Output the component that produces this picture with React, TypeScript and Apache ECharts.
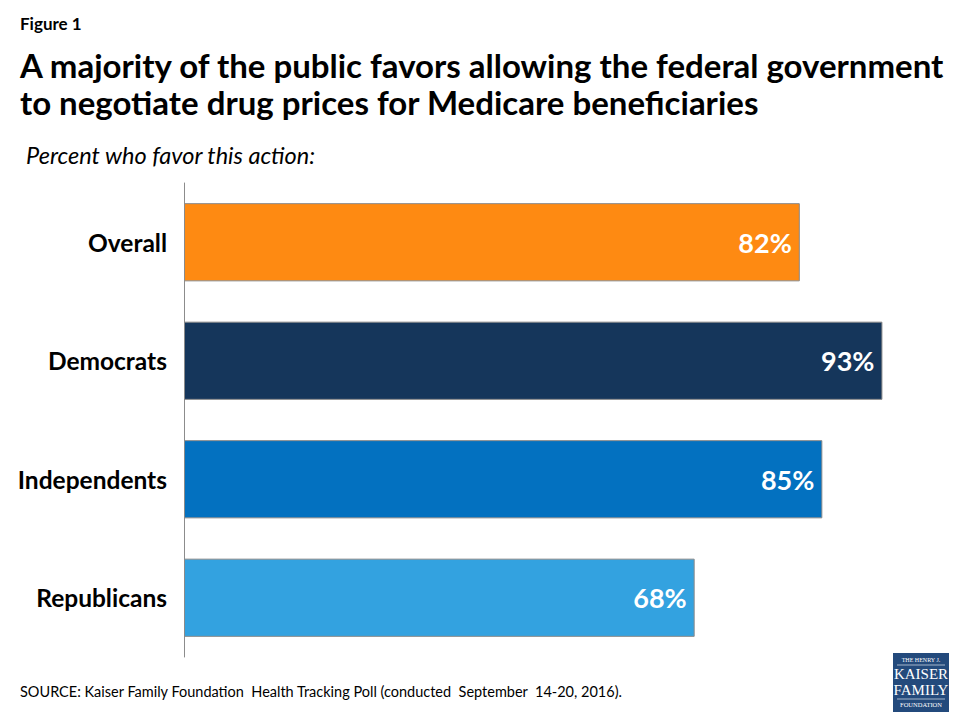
import React, { useEffect, useRef } from "react";
import * as echarts from "echarts";

const categories = ["Overall", "Democrats", "Independents", "Republicans"];
const values = [82, 93, 85, 68];
const barColors = ["#FE8A12", "#15365B", "#0371C0", "#33A2E0"];

const FONT = "Lato, 'Open Sans', sans-serif";

export default function App() {
  const ref = useRef<HTMLDivElement>(null);

  useEffect(() => {
    if (!ref.current) return;
    const chart = echarts.init(ref.current, null, { renderer: "svg" });
    chart.setOption({
      animation: false,
      backgroundColor: "#ffffff",
      grid: { left: 184, top: 183, width: 751, height: 474, containLabel: false },
      xAxis: {
        type: "value",
        min: 0,
        max: 100,
        show: false,
      },
      yAxis: {
        type: "category",
        data: categories,
        inverse: true,
        axisLine: { show: true, lineStyle: { color: "#8c8c8c", width: 1 } },
        axisTick: { show: false },
        axisLabel: {
          color: "#000",
          fontFamily: FONT,
          fontWeight: "bold",
          fontSize: 24.5,
          margin: 17,
        },
      },
      series: [
        {
          type: "bar",
          barCategoryGap: "34%",
          data: values.map((v, i) => ({
            value: v,
            itemStyle: { color: barColors[i] },
          })),
          itemStyle: { borderColor: "#8a8a8a", borderWidth: 1 },
          label: {
            show: true,
            position: "insideRight",
            distance: 8,
            color: "#fff",
            fontFamily: FONT,
            fontWeight: "bold",
            fontSize: 27,
            formatter: "{c}%",
          },
        },
      ],
      graphic: [
        {
          type: "text",
          left: 20,
          top: 15,
          style: { text: "Figure 1", font: `bold 17px ${FONT}`, fill: "#000" },
        },
        {
          type: "text",
          left: 20,
          top: 46,
          style: {
            text: "A majority of the public favors allowing the federal government\nto negotiate drug prices for Medicare beneficiaries",
            font: `bold 33px ${FONT}`,
            lineHeight: 37,
            fill: "#000",
          },
        },
        {
          type: "text",
          left: 26,
          top: 143,
          style: {
            text: "Percent who favor this action:",
            font: `italic 23.5px ${FONT}`,
            fill: "#000",
          },
        },
        {
          type: "text",
          left: 20,
          top: 684,
          style: {
            text: "SOURCE: Kaiser Family Foundation  Health Tracking Poll (conducted  September  14-20, 2016).",
            font: `14.5px ${FONT}`,
            fill: "#000",
          },
        },
        {
          type: "group",
          left: 893,
          top: 653,
          children: [
            { type: "rect", shape: { x: 0, y: 0, width: 56, height: 59 }, style: { fill: "#234A7C" } },
            {
              type: "text",
              style: { x: 28, y: 4, text: "THE HENRY J.", font: "6px 'Liberation Serif', serif", fill: "#fff", align: "center" },
            },
            { type: "line", shape: { x1: 4, y1: 12, x2: 52, y2: 12 }, style: { stroke: "#fff", lineWidth: 0.6 } },
            {
              type: "text",
              style: { x: 28, y: 13, text: "KAISER", font: "15px 'Liberation Serif', serif", fill: "#fff", align: "center" },
            },
            {
              type: "text",
              style: { x: 28, y: 29, text: "FAMILY", font: "15px 'Liberation Serif', serif", fill: "#fff", align: "center" },
            },
            { type: "line", shape: { x1: 4, y1: 46, x2: 52, y2: 46 }, style: { stroke: "#fff", lineWidth: 0.6 } },
            {
              type: "text",
              style: { x: 28, y: 48, text: "FOUNDATION", font: "6.5px 'Liberation Serif', serif", fill: "#fff", align: "center" },
            },
          ],
        },
      ],
    });
    return () => chart.dispose();
  }, []);

  return <div ref={ref} style={{ width: 960, height: 720, margin: -8 }} />;
}
